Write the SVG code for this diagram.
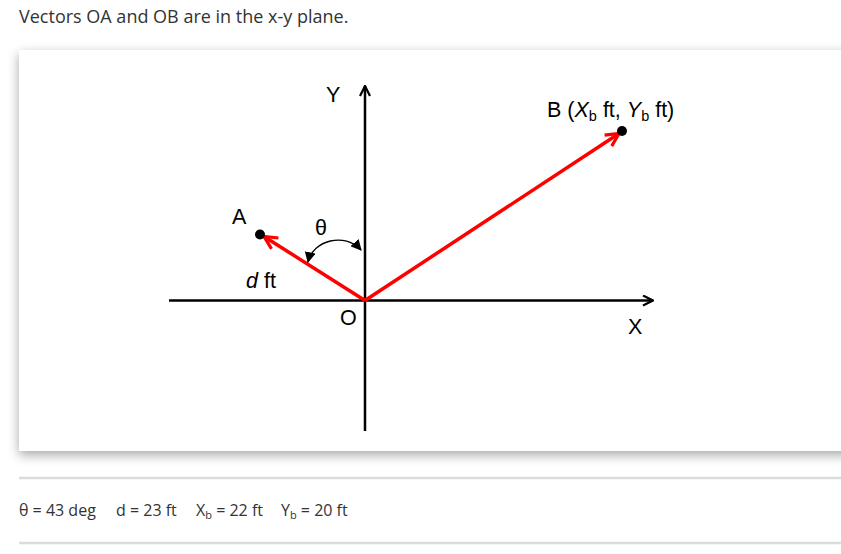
<svg xmlns="http://www.w3.org/2000/svg" width="841" height="554" viewBox="0 0 841 554">
<defs>
<style>
.page{font-family:"Open Sans","Liberation Sans",sans-serif;font-size:16px;fill:#333}
.title{font-size:18px}
.fig{font-family:"Liberation Sans",Arial,sans-serif;font-size:21.5px;fill:#000}
.axis{stroke:#000;stroke-width:2.5;fill:none}
.vec{stroke:#ff0000;stroke-width:3.5;fill:none}
.rule{stroke:#dcdcdc;stroke-width:2.5}
</style>
<filter id="sh" x="-10%" y="-10%" width="130%" height="130%">
<feGaussianBlur in="SourceAlpha" stdDeviation="6"/>
<feOffset dx="0" dy="4" result="b"/>
<feComponentTransfer><feFuncA type="linear" slope="0.35"/></feComponentTransfer>
<feMerge><feMergeNode/><feMergeNode in="SourceGraphic"/></feMerge>
</filter>
<marker id="open" viewBox="0 0 12 12" refX="11" refY="6" markerWidth="12" markerHeight="12" markerUnits="userSpaceOnUse" orient="auto">
<path d="M1,1 L11,6 L1,11" fill="none" stroke="#000" stroke-width="2.2"/>
</marker>
<marker id="red" viewBox="0 0 16 16" refX="14" refY="8" markerWidth="16" markerHeight="16" markerUnits="userSpaceOnUse" orient="auto">
<path d="M1,1.5 L14,8 L1,14.5" fill="none" stroke="#ff0000" stroke-width="3.2"/>
</marker>
<marker id="tri" viewBox="0 0 10 10" refX="9" refY="5" markerWidth="11" markerHeight="11" markerUnits="userSpaceOnUse" orient="auto-start-reverse">
<path d="M0,0 L10,5 L0,10 Z" fill="#000"/>
</marker>
</defs>
<rect width="841" height="554" fill="#fff"/>
<text class="page title" x="19" y="23">Vectors OA and OB are in the x-y plane.</text>
<rect x="19" y="50" width="840" height="401" fill="#fff" filter="url(#sh)"/>
<line class="rule" x1="19" y1="478" x2="841" y2="478"/>
<line class="rule" x1="19" y1="543" x2="841" y2="543"/>
<g id="connectors">
<line class="axis" x1="169" y1="300.5" x2="653" y2="300.5" marker-end="url(#open)"/>
<line class="axis" x1="365" y1="431" x2="365" y2="86" marker-end="url(#open)"/>
<line class="vec" x1="365" y1="300.5" x2="264" y2="236.5" marker-end="url(#red)"/>
<line class="vec" x1="365" y1="300.5" x2="619" y2="133.5" marker-end="url(#red)"/>
<path d="M308,262 C313,240 345,232 361,250" fill="none" stroke="#000" stroke-width="1.3" marker-start="url(#tri)" marker-end="url(#tri)"/>
</g>
<g id="node-A">
<circle cx="260" cy="234.5" r="5" fill="#000"/>
<text class="fig" x="232" y="224">A</text>
</g>
<g id="node-B">
<circle cx="622" cy="131" r="5" fill="#000"/>
<text class="fig" x="547" y="117">B (<tspan font-style="italic">X</tspan><tspan font-size="14.5" dy="4">b</tspan><tspan dy="-4"> ft, </tspan><tspan font-style="italic">Y</tspan><tspan font-size="14.5" dy="4">b</tspan><tspan dy="-4"> ft)</tspan></text>
</g>
<g id="node-O">
<text class="fig" x="340" y="325">O</text>
</g>
<g id="labels">
<text class="fig" x="326" y="102">Y</text>
<text class="fig" x="628" y="334">X</text>
<text class="fig" x="315" y="235">θ</text>
<text class="fig" x="246" y="288"><tspan font-style="italic">d</tspan> ft</text>
</g>
<text class="page" x="19" y="516">θ = 43 deg<tspan x="116">d = 23 ft</tspan><tspan x="196">X</tspan><tspan font-size="11" dy="3">b</tspan><tspan dy="-3"> = 22 ft</tspan><tspan x="281">Y</tspan><tspan font-size="11" dy="3">b</tspan><tspan dy="-3"> = 20 ft</tspan></text>
</svg>
